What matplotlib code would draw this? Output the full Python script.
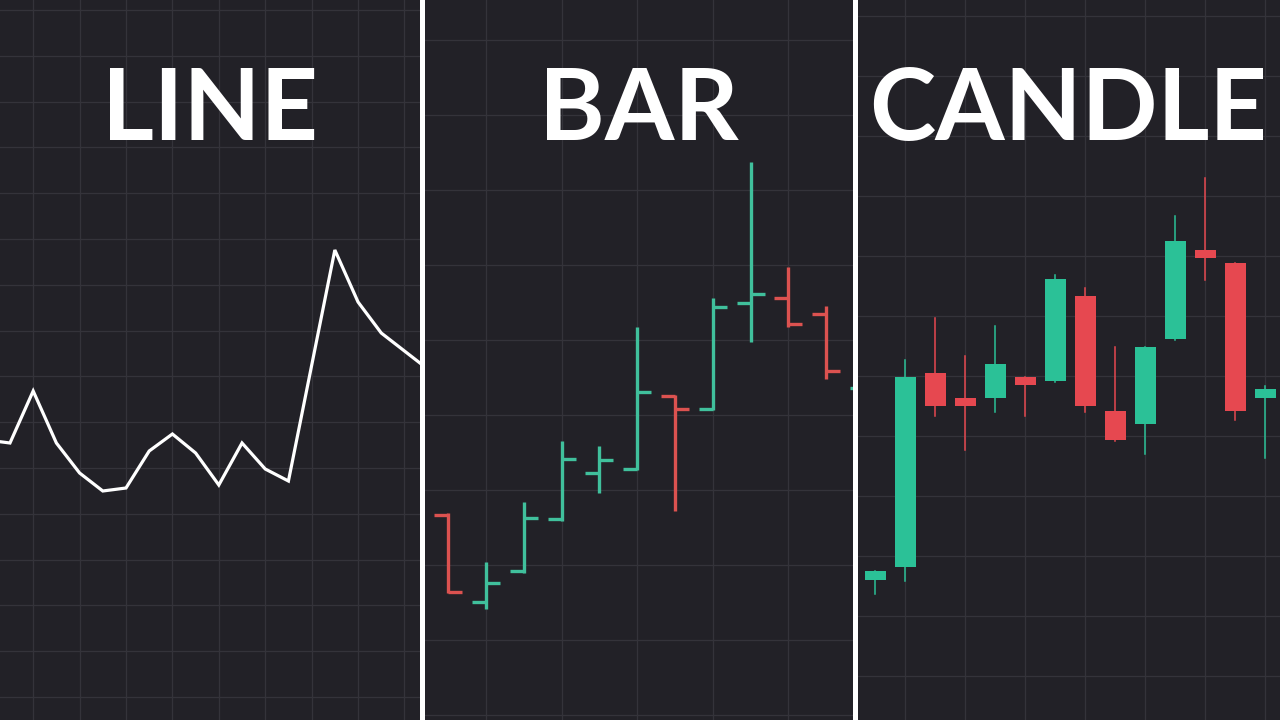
import numpy as np
import matplotlib
matplotlib.use("Agg")
import matplotlib.pyplot as plt
from matplotlib.patches import Rectangle

# line chart: point index and price
line_idx = [-1, 0, 1, 2, 3, 4, 5, 6, 7, 8, 9, 10, 11, 12, 14, 15, 16, 18]
line_price = [28.0, 27.7, 32.9, 27.7, 24.7, 22.9, 23.2, 26.9, 28.6, 26.7,
              23.5, 27.7, 25.1, 23.9, 47.0, 41.8, 38.7, 35.1]

# OHLC bars
bar_open = [20.5, 11.8, 14.9, 20.1, 24.7, 25.1, 32.4, 31.1, 41.7, 42.2, 40.6, 33.2]
bar_high = [20.7, 15.8, 21.8, 27.9, 27.4, 39.3, 32.5, 42.2, 55.8, 45.3, 41.4, 37.0]
bar_low = [12.7, 11.1, 14.7, 19.9, 22.7, 25.0, 20.9, 31.0, 37.8, 39.3, 34.1, 32.0]
bar_close = [12.8, 13.7, 20.2, 26.1, 26.0, 32.8, 31.1, 41.3, 42.6, 39.6, 34.9, 35.5]

# candles
cdl_open = [14.0, 15.3, 34.7, 32.2, 32.2, 34.3, 33.9, 42.4, 30.9, 29.6, 38.1, 47.0, 45.7, 32.2]
cdl_high = [14.9, 36.0, 40.2, 36.4, 39.4, 34.3, 44.5, 43.2, 37.3, 37.3, 50.4, 54.2, 45.7, 33.4]
cdl_low = [12.6, 13.9, 30.4, 27.0, 30.8, 30.4, 33.8, 30.8, 27.9, 26.6, 38.0, 44.0, 30.0, 26.2]
cdl_close = [14.9, 34.3, 31.4, 31.4, 35.6, 33.5, 44.1, 31.4, 28.0, 37.3, 47.9, 46.2, 30.9, 33.1]

titles = ["LINE", "BAR", "CANDLE"]

BG = "#222127"
GRID = "#34333a"
UP_BAR, DOWN_BAR = "#40c09c", "#dc5250"
UP_CDL, DOWN_CDL = "#2bc197", "#e64850"

W, H = 1280, 720
fig = plt.figure(figsize=(12.8, 7.2), dpi=100, facecolor="white")


def make_axes(x0, x1):
    ax = fig.add_axes([x0 / W, 0, (x1 - x0) / W, 1])
    ax.set_facecolor(BG)
    for s in ax.spines.values():
        s.set_visible(False)
    ax.tick_params(length=0, labelbottom=False, labelleft=False)
    ax.grid(True, color=GRID, lw=0.9)
    ax.set_axisbelow(True)
    return ax


# line panel
ax1 = make_axes(0, 420)
ax1.plot(line_idx, line_price, color="white", lw=2.3, solid_joinstyle="miter")
ax1.set_xlim(-0.43, 17.67)
ax1.set_ylim(0, 72)
ax1.set_xticks(np.arange(1, 18, 2))
ax1.set_yticks(np.arange(71.0, 0, -4.58))

# bar panel
ax2 = make_axes(425, 853)
tick = 0.37
for j in range(len(bar_open)):
    c = UP_BAR if bar_close[j] >= bar_open[j] else DOWN_BAR
    ax2.plot([j, j], [bar_low[j], bar_high[j]], color=c, lw=2.4, solid_capstyle="butt")
    ax2.plot([j - tick, j], [bar_open[j], bar_open[j]], color=c, lw=2.4, solid_capstyle="butt")
    ax2.plot([j, j + tick], [bar_close[j], bar_close[j]], color=c, lw=2.4, solid_capstyle="butt")
ax2.set_xlim(-0.616, 10.71)
ax2.set_ylim(0, 72)
ax2.set_xticks(np.arange(1, 11, 2))
ax2.set_yticks(np.arange(68, 0, -7.5))

# candle panel
ax3 = make_axes(857.7, 1280)
bw = 0.69
for i in range(len(cdl_open)):
    c = UP_CDL if cdl_close[i] >= cdl_open[i] else DOWN_CDL
    ax3.plot([i, i], [cdl_low[i], cdl_high[i]], color=c, lw=1.1, zorder=2)
    lo = min(cdl_open[i], cdl_close[i])
    hi = max(cdl_open[i], cdl_close[i])
    ax3.add_patch(Rectangle((i - bw / 2, lo), bw, hi - lo, facecolor=c,
                            edgecolor="none", zorder=3))
ax3.set_xlim(-0.587, 13.49)
ax3.set_ylim(0, 72)
ax3.set_xticks(np.arange(1, 14, 2))
ax3.set_yticks(np.arange(70.4, 0, -6.0))

# titles
for t, xc in zip(titles, [210.5, 638.5, 1068.5]):
    fig.text(xc / W, 1 - 140 / H, t, ha="center", va="baseline", color="white",
             fontsize=72, fontweight="bold", family=["Lato", "DejaVu Sans"], zorder=10)

fig.savefig("out.png", dpi=100, facecolor=fig.get_facecolor())
